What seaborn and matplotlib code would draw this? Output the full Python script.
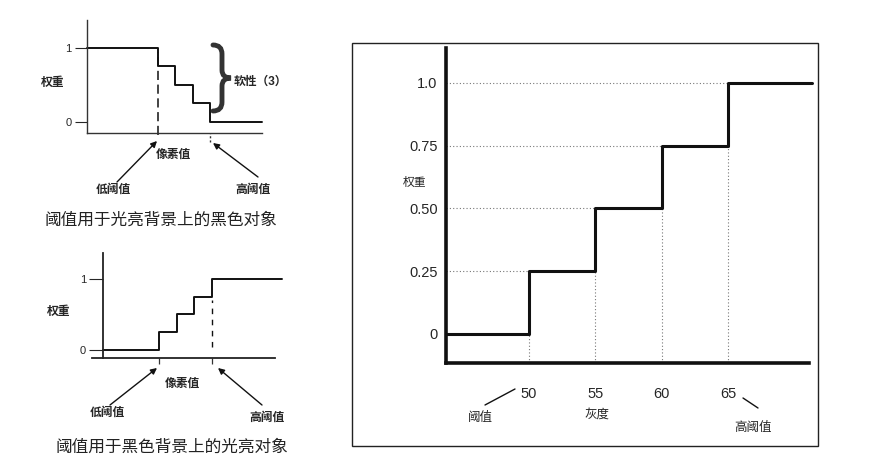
import matplotlib
matplotlib.use('Agg')
import matplotlib.pyplot as plt
import seaborn as sns
from matplotlib.patches import Rectangle, FancyArrowPatch, PathPatch
from matplotlib.path import Path

sns.set_style('white')
plt.rcParams['font.family'] = ['Liberation Sans', 'Noto Sans CJK SC']

# ---------------------------------------------
# data
# ---------------------------------------------
thresholds = [50, 55, 60, 65]

# dark object on bright background (top left)
dark_x = [29.5, 50, 55, 60, 65, 80]
dark_w = [1.0, 0.75, 0.5, 0.25, 0.0, 0.0]

# bright object on dark background (bottom left)
bright_x = [34, 50, 55, 60, 65, 84.8]
bright_w = [0.0, 0.25, 0.5, 0.75, 1.0, 1.0]

# big chart: grey level vs weight
gray_x = [43.75, 50, 55, 60, 65, 71.3]
gray_w = [0.0, 0.25, 0.5, 0.75, 1.0, 1.0]
y_ticks = [0, 0.25, 0.5, 0.75, 1.0]
y_ticklabels = ['0', '0.25', '0.50', '0.75', '1.0']

W, H = 875, 472


def box(x0, y0, x1, y1):
    # pixel box (top-left origin) -> figure fraction rect
    return [x0 / W, 1 - y1 / H, (x1 - x0) / W, (y1 - y0) / H]


def fp(x, y):
    return (x / W, 1 - y / H)


fig = plt.figure(figsize=(W / 100, H / 100), dpi=100)

# ---------------------------------------------
# top left panel
# ---------------------------------------------
ax1 = fig.add_axes(box(87, 20, 262, 133))
sns.lineplot(x=dark_x, y=dark_w, ax=ax1, color='#111111', linewidth=1.4,
             drawstyle='steps-post', clip_on=False)
ax1.set_xlim(29.5, 80)
ax1.set_ylim(-0.149, 1.378)
for s in ['top', 'right']:
    ax1.spines[s].set_visible(False)
for s in ['left', 'bottom']:
    ax1.spines[s].set_color('#333333')
    ax1.spines[s].set_linewidth(1.0)
ax1.set_xticks([])
ax1.set_yticks([0, 1])
ax1.set_yticklabels(['0', '1'], fontsize=8)
ax1.tick_params(axis='y', direction='out', length=9, width=0.8, pad=2, left=True)
ax1.vlines(thresholds[0], -0.18, 0.95, color='#111111', linewidth=1.1,
           linestyles=(0, (6, 3)), clip_on=False)
ax1.vlines(thresholds[-1], -0.27, -0.15, color='#333333', linewidth=1.0,
           linestyles=(0, (1.5, 1.5)), clip_on=False)
ax1.set_ylabel('')

# curly brace marking the soft steps
brace = [fp(213, 45), fp(222, 45), fp(222, 54), fp(222, 70), fp(222, 78), fp(231, 78),
         fp(222, 78), fp(222, 86), fp(222, 102), fp(222, 111), fp(213, 111)]
codes = [Path.MOVETO, Path.CURVE3, Path.CURVE3, Path.LINETO, Path.CURVE3, Path.CURVE3,
         Path.CURVE3, Path.CURVE3, Path.LINETO, Path.CURVE3, Path.CURVE3]
fig.add_artist(PathPatch(Path(brace, codes), transform=fig.transFigure, fill=False,
                         edgecolor='#333333', linewidth=3.5, capstyle='round'))

fig.text(*fp(234, 82), '软性（3）', fontsize=8.5, fontweight='bold', ha='left', va='center')
fig.text(*fp(53, 83), '权重', fontsize=8.5, fontweight='bold', ha='center', va='center')
fig.text(*fp(173, 155), '像素值', fontsize=8.5, fontweight='bold', ha='center', va='center')
fig.text(*fp(113, 190), '低阈值', fontsize=8.5, fontweight='bold', ha='center', va='center')
fig.text(*fp(253, 190), '高阈值', fontsize=8.5, fontweight='bold', ha='center', va='center')
fig.text(*fp(161, 220), '阈值用于光亮背景上的黑色对象', fontsize=12, ha='center', va='center',
         color='#222222')

arrow_kw = dict(arrowstyle='-|>', color='#111111', lw=1.0, mutation_scale=9,
                shrinkA=0, shrinkB=0)
fig.add_artist(FancyArrowPatch(fp(117, 182), fp(157, 141), transform=fig.transFigure, **arrow_kw))
fig.add_artist(FancyArrowPatch(fp(258, 177), fp(213, 143), transform=fig.transFigure, **arrow_kw))

# ---------------------------------------------
# bottom left panel
# ---------------------------------------------
ax2 = fig.add_axes(box(92, 253, 275, 358))
sns.lineplot(x=bright_x, y=bright_w, ax=ax2, color='#111111', linewidth=1.4,
             drawstyle='steps-post', clip_on=False)
ax2.set_xlim(31.0, 82.8)
ax2.set_ylim(-0.113, 1.366)
for s in ['top', 'right']:
    ax2.spines[s].set_visible(False)
ax2.spines['left'].set_position(('data', 34))
for s in ['left', 'bottom']:
    ax2.spines[s].set_color('#222222')
    ax2.spines[s].set_linewidth(1.3)
ax2.set_xticks([])
ax2.set_yticks([0, 1])
ax2.set_yticklabels(['0', '1'], fontsize=8)
ax2.tick_params(axis='y', direction='out', length=10, width=0.8, pad=2, left=True)
ax2.vlines(thresholds[-1], 0.04, 0.70, color='#111111', linewidth=1.0,
           linestyles=(0, (4, 4)), clip_on=False)
ax2.vlines([thresholds[0], thresholds[-1]], -0.2, -0.12, color='#333333',
           linewidth=0.9, clip_on=False)
ax2.set_ylabel('')

fig.text(*fp(59, 312), '权重', fontsize=8.5, fontweight='bold', ha='center', va='center')
fig.text(*fp(182, 384), '像素值', fontsize=8.5, fontweight='bold', ha='center', va='center')
fig.text(*fp(107, 413), '低阈值', fontsize=8.5, fontweight='bold', ha='center', va='center')
fig.text(*fp(267, 418), '高阈值', fontsize=8.5, fontweight='bold', ha='center', va='center')
fig.text(*fp(172, 447), '阈值用于黑色背景上的光亮对象', fontsize=12, ha='center', va='center',
         color='#222222')

fig.add_artist(FancyArrowPatch(fp(110, 405), fp(157, 368), transform=fig.transFigure, **arrow_kw))
fig.add_artist(FancyArrowPatch(fp(262, 405), fp(218, 368), transform=fig.transFigure, **arrow_kw))

# ---------------------------------------------
# right panel
# ---------------------------------------------
fig.add_artist(Rectangle(fp(352, 446), (818 - 352) / W, (446 - 43) / H,
                         transform=fig.transFigure, fill=False,
                         edgecolor='#222222', linewidth=1.0))

ax3 = fig.add_axes(box(446, 48, 809, 363))
x_lo, x_hi = 43.75, 71.1
y_lo, y_hi = -0.116, 1.139
ax3.hlines(gray_w[1:5], x_lo, thresholds, colors='#777777', linewidth=0.8,
           linestyles=(0, (1, 2)))
ax3.vlines(thresholds, y_lo, gray_w[:4], colors='#777777', linewidth=0.8,
           linestyles=(0, (1, 2)))
sns.lineplot(x=gray_x, y=gray_w, ax=ax3, color='#111111', linewidth=2.2,
             drawstyle='steps-post', clip_on=False)
ax3.set_xlim(x_lo, x_hi)
ax3.set_ylim(y_lo, y_hi)
for s in ['top', 'right']:
    ax3.spines[s].set_visible(False)
for s in ['left', 'bottom']:
    ax3.spines[s].set_color('#111111')
    ax3.spines[s].set_linewidth(2.6)
ax3.set_xticks(thresholds)
ax3.set_xticklabels([str(t) for t in thresholds], fontsize=10.5)
ax3.set_yticks(y_ticks)
ax3.set_yticklabels(y_ticklabels, fontsize=10.5)
ax3.tick_params(axis='x', length=0, pad=17)
ax3.tick_params(axis='y', length=0, pad=6)
ax3.set_ylabel('')

fig.text(*fp(415, 183), '权重', fontsize=8.5, ha='center', va='center')
fig.text(*fp(480, 418), '阈值', fontsize=9, ha='center', va='center')
fig.text(*fp(597, 415), '灰度', fontsize=9, ha='center', va='center')
fig.text(*fp(753, 428), '高阈值', fontsize=9, ha='center', va='center')
fig.add_artist(plt.Line2D([485 / W, 515 / W], [1 - 405 / H, 1 - 389 / H],
                          transform=fig.transFigure, color='#111111', lw=1.0))
fig.add_artist(plt.Line2D([743 / W, 758 / W], [1 - 398 / H, 1 - 408 / H],
                          transform=fig.transFigure, color='#111111', lw=1.0))

fig.savefig('out.png', dpi=100)
